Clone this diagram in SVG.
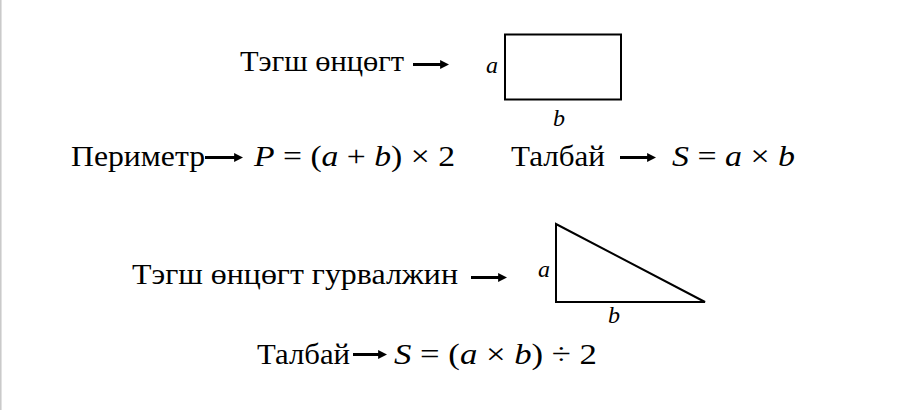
<svg xmlns="http://www.w3.org/2000/svg" width="906" height="415" viewBox="0 0 906 415">
<style>
.t{font-family:"Liberation Serif","DejaVu Serif",serif;font-size:30px;fill:#000}
.m{font-family:"Liberation Serif","DejaVu Serif",serif;font-size:30px;fill:#000}
.i{font-style:italic}
.lbl{font-family:"Liberation Serif","DejaVu Serif",serif;font-size:24px;font-style:italic;fill:#000}
.shape{fill:#fff;stroke:#000;stroke-width:2}
.arr{stroke:#000;stroke-width:3;fill:none;marker-end:url(#ah)}
</style>
<defs>
<marker id="ah" viewBox="0 0 10 10" refX="1" refY="5" markerWidth="9" markerHeight="9" markerUnits="userSpaceOnUse" orient="auto">
<path d="M0,0 L10,5 L0,10 z" fill="#000"/>
</marker>
</defs>
<rect x="0" y="0" width="906" height="415" fill="#fff"/>
<line x1="0.8" y1="0" x2="0.8" y2="410" stroke="#c8c8c8" stroke-width="1.5"/>

<g id="rect-node">
<text class="t" x="240" y="71" textLength="164" lengthAdjust="spacingAndGlyphs">Тэгш өнцөгт</text>
<rect class="shape" x="505" y="34.5" width="116" height="65"/>
<text class="lbl" x="486" y="73">a</text>
<text class="lbl" x="553" y="126">b</text>
</g>

<g id="perimeter">
<text class="t" x="71" y="166" textLength="134" lengthAdjust="spacingAndGlyphs">Периметр</text>
<text class="m" x="254" y="166" textLength="201" lengthAdjust="spacingAndGlyphs"><tspan class="i">P</tspan> = (<tspan class="i">a</tspan> + <tspan class="i">b</tspan>) × 2</text>
</g>

<g id="rect-area">
<text class="t" x="511" y="166" textLength="94" lengthAdjust="spacingAndGlyphs">Талбай</text>
<text class="m" x="672" y="166" textLength="123" lengthAdjust="spacingAndGlyphs"><tspan class="i">S</tspan> = <tspan class="i">a</tspan> × <tspan class="i">b</tspan></text>
</g>

<g id="triangle-node">
<text class="t" x="132" y="284" textLength="326" lengthAdjust="spacingAndGlyphs">Тэгш өнцөгт гурвалжин</text>
<polygon class="shape" points="556,224 556,302 705,302" stroke-linejoin="miter"/>
<text class="lbl" x="538" y="277">a</text>
<text class="lbl" x="608" y="323">b</text>
</g>

<g id="triangle-area">
<text class="t" x="257" y="364" textLength="93" lengthAdjust="spacingAndGlyphs">Талбай</text>
<text class="m" x="394" y="364" textLength="203" lengthAdjust="spacingAndGlyphs"><tspan class="i">S</tspan> = (<tspan class="i">a</tspan> × <tspan class="i">b</tspan>) ÷ 2</text>
</g>

<g id="connectors">
<line class="arr" x1="413" y1="64.5" x2="441" y2="64.5"/>
<line class="arr" x1="205" y1="157.5" x2="235" y2="157.5"/>
<line class="arr" x1="620" y1="157.5" x2="648" y2="157.5"/>
<line class="arr" x1="471" y1="277.5" x2="499" y2="277.5"/>
<line class="arr" x1="353" y1="354.5" x2="379" y2="354.5"/>
</g>
</svg>
